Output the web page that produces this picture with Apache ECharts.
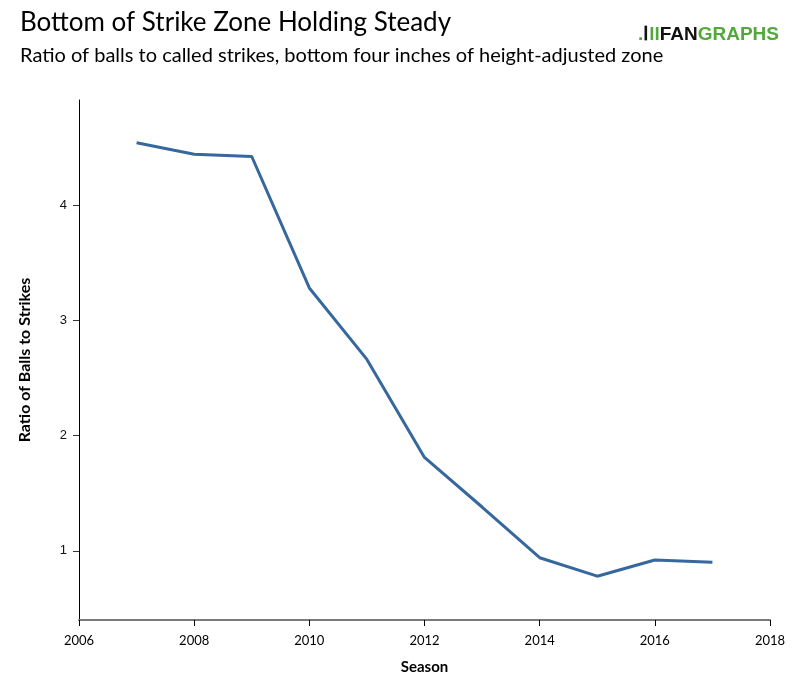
<!DOCTYPE html>
<html>
<head>
<meta charset="utf-8">
<script src="https://cdn.jsdelivr.net/npm/echarts@6/dist/echarts.min.js"></script>
<style>
html,body{margin:0;padding:0;background:#fff;}
#chart{width:800px;height:700px;}
</style>
</head>
<body>
<div id="chart"></div>
<script>
var seasons = [2007, 2008, 2009, 2010, 2011, 2012, 2013, 2014, 2015, 2016, 2017];
var ratios = [4.54, 4.44, 4.42, 3.28, 2.66, 1.81, 1.38, 0.94, 0.78, 0.92, 0.90];
var xTicks = [2006, 2008, 2010, 2012, 2014, 2016, 2018];
var yTicks = [1, 2, 3, 4];

var chart = echarts.init(document.getElementById('chart'));
var data = seasons.map(function (s, i) { return [s, ratios[i]]; });

chart.setOption({
  animation: false,
  backgroundColor: '#fff',
  title: [
    {
      text: 'Bottom of Strike Zone Holding Steady',
      left: 15, top: 5,
      textStyle: { fontFamily: 'Lato', fontSize: 26, fontWeight: 'normal', color: '#000' }
    },
    {
      text: 'Ratio of balls to called strikes, bottom four inches of height-adjusted zone',
      left: 15, top: 41,
      textStyle: { fontFamily: 'Lato', fontSize: 20, fontWeight: 'normal', color: '#000' }
    },
    {
      text: '{g|.}{k|\u2160}{g|ll}{a|FAN}{b|GRAPHS}',
      right: 16, top: 20,
      textStyle: {
        rich: {
          g: { fontFamily: 'Liberation Sans', fontSize: 19, fontWeight: 'bold', color: '#52a83a' },
          k: { fontFamily: 'Liberation Sans', fontSize: 19, fontWeight: 'bold', color: '#111' },
          a: { fontFamily: 'Liberation Sans', fontSize: 19, fontWeight: 'bold', color: '#111' },
          b: { fontFamily: 'Liberation Sans', fontSize: 19, fontWeight: 'bold', color: '#52a83a' }
        }
      }
    }
  ],
  grid: { left: 79, right: 30, top: 100, bottom: 80, containLabel: false },
  xAxis: {
    type: 'value',
    min: 2006, max: 2018, interval: 2,
    name: 'Season',
    nameLocation: 'middle',
    nameGap: 40,
    nameTextStyle: { fontFamily: 'Lato', fontSize: 15, fontWeight: 'bold', color: '#000' },
    axisLine: { show: true, lineStyle: { color: '#7a7a7a', width: 2 } },
    axisTick: { show: true, length: 6, lineStyle: { color: '#000', width: 1 } },
    axisLabel: {
      margin: 14, fontFamily: 'Lato', fontSize: 13, color: '#000',
      customValues: xTicks,
      formatter: function (v) { return String(v); }
    },
    splitLine: { show: false }
  },
  yAxis: {
    type: 'value',
    min: 0.4, max: 4.91,
    name: 'Ratio of Balls to Strikes',
    nameLocation: 'middle',
    nameGap: 46,
    nameTextStyle: { fontFamily: 'Lato', fontSize: 16, fontWeight: 'bold', color: '#000' },
    axisLine: { show: true, lineStyle: { color: '#000', width: 1 } },
    axisTick: { show: true, length: 6, customValues: yTicks, lineStyle: { color: '#333', width: 1 } },
    axisLabel: {
      margin: 12, fontFamily: 'Liberation Sans', fontSize: 13, color: '#111',
      customValues: yTicks
    },
    splitLine: { show: false }
  },
  series: [{
    type: 'line',
    data: data,
    showSymbol: false,
    symbol: 'none',
    lineStyle: { color: '#36679d', width: 3 },
    itemStyle: { color: '#36679d' }
  }]
});
</script>
</body>
</html>
